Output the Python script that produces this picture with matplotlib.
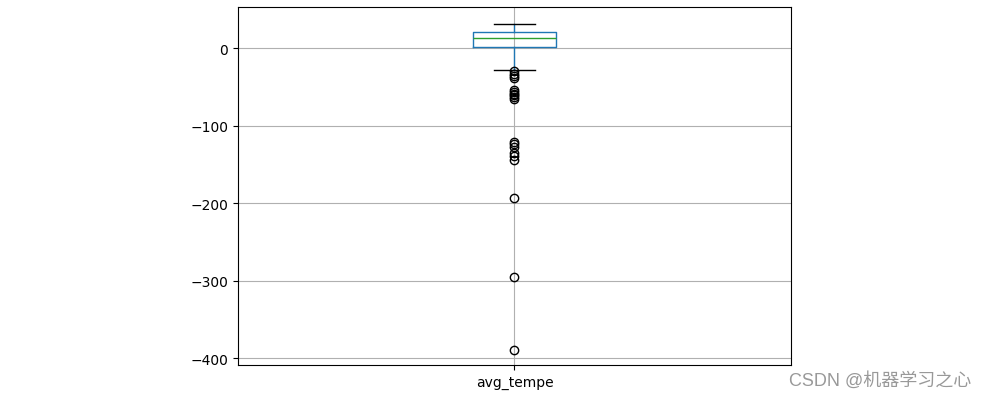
import matplotlib.pyplot as plt

plt.rcParams['font.family'] = ['DejaVu Sans', 'Noto Sans CJK SC']

# box statistics
label = 'avg_tempe'
q1, median, q3 = 0.9, 12.5, 20.3
whisker_low, whisker_high = -28.0, 31.0
fliers = [-30, -33, -36, -39, -54, -57, -59, -61, -63, -66,
          -121, -124, -128, -135, -139, -145, -194, -295, -390]

stats = [{
    'label': label,
    'q1': q1, 'med': median, 'q3': q3,
    'whislo': whisker_low, 'whishi': whisker_high,
    'fliers': fliers,
}]

fig = plt.figure(figsize=(9.86, 4.02), dpi=100)
ax = fig.add_axes([0.2414, 0.0896, 0.5608, 0.8905])

ax.bxp(stats, widths=0.15,
       boxprops=dict(color='#1f77b4'),
       whiskerprops=dict(color='#1f77b4'),
       capprops=dict(color='black'),
       medianprops=dict(color='#2ca02c'),
       flierprops=dict(marker='o', markerfacecolor='none',
                       markeredgecolor='black', markersize=6))

ax.set_ylim(-409, 53)
ax.set_yticks([0, -100, -200, -300, -400])
ax.grid(True, color='#b0b0b0', linewidth=0.8)
ax.tick_params(labelsize=10)

fig.text(0.985, 0.03, 'CSDN @机器学习之心', ha='right', va='bottom',
         fontsize=13, color='#999999',
         family=['Liberation Sans', 'Noto Sans CJK SC'])

fig.savefig('out.png', dpi=100)
